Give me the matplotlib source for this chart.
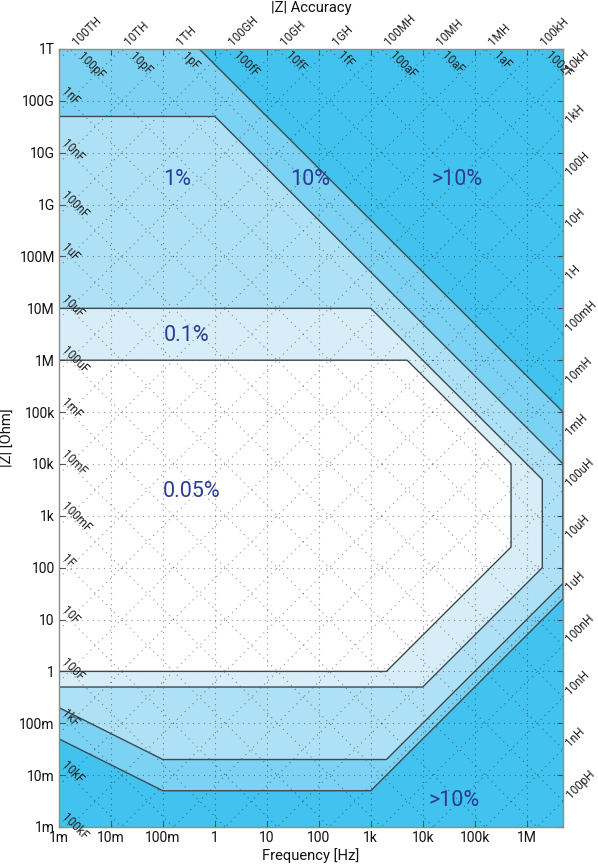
import numpy as np
import matplotlib
matplotlib.use("Agg")
import matplotlib.pyplot as plt

plt.rcParams['font.family'] = ['Roboto', 'DejaVu Sans']

# axis range
f_min, f_max = 1e-3, 5e6
z_min, z_max = 1e-3, 1e12

freq_ticks = [1e-3, 1e-2, 1e-1, 1, 10, 100, 1e3, 1e4, 1e5, 1e6]
freq_labels = ['1m', '10m', '100m', '1', '10', '100', '1k', '10k', '100k', '1M']
z_ticks = [1e-3, 1e-2, 1e-1, 1, 10, 100, 1e3, 1e4, 1e5, 1e6, 1e7, 1e8, 1e9, 1e10, 1e11, 1e12]
z_labels = ['1m', '10m', '100m', '1', '10', '100', '1k', '10k', '100k', '1M',
            '10M', '100M', '1G', '10G', '100G', '1T']

# capacitance lines (farad) and labels
cap_values = [1e-10, 1e-11, 1e-12, 1e-13, 1e-14, 1e-15, 1e-16, 1e-17, 1e-18, 1e-19,
              1e-9, 1e-8, 1e-7, 1e-6, 1e-5, 1e-4, 1e-3, 1e-2, 1e-1, 1, 10, 100, 1e3, 1e4, 1e5]
cap_labels = ['100pF', '10pF', '1pF', '100fF', '10fF', '1fF', '100aF', '10aF', '1aF', '100zF',
              '1nF', '10nF', '100nF', '1uF', '10uF', '100uF', '1mF', '10mF', '100mF',
              '1F', '10F', '100F', '1kF', '10kF', '100kF']

# inductance lines (henry) and labels
ind_values = [1e14, 1e13, 1e12, 1e11, 1e10, 1e9, 1e8, 1e7, 1e6, 1e5,
              1e4, 1e3, 100, 10, 1, 1e-1, 1e-2, 1e-3, 1e-4, 1e-5, 1e-6, 1e-7, 1e-8, 1e-9, 1e-10]
ind_labels = ['100TH', '10TH', '1TH', '100GH', '10GH', '1GH', '100MH', '10MH', '1MH', '100kH',
              '10kH', '1kH', '100H', '10H', '1H', '100mH', '10mH', '1mH', '100uH', '10uH',
              '1uH', '100nH', '10nH', '1nH', '100pH']

# accuracy regions: upper and lower boundary (freq, |Z|)
regions = ['10%', '1%', '0.1%', '0.05%']
colors = ['#7cd2f3', '#afe1f6', '#d7eef9', '#ffffff']
upper = [
    [(1e-3, 1e12), (0.5, 1e12), (5e6, 1e5)],
    [(1e-3, 5e10), (1, 5e10), (5e6, 1e4)],
    [(1e-3, 1e7), (1e3, 1e7), (2e6, 5e3)],
    [(1e-3, 1e6), (5e3, 1e6), (5e5, 1e4)],
]
lower = [
    [(1e-3, 0.05), (0.1, 5e-3), (1e3, 5e-3), (5e6, 25)],
    [(1e-3, 0.2), (0.1, 0.02), (2e3, 0.02), (5e6, 50)],
    [(1e-3, 0.5), (1e4, 0.5), (2e6, 100)],
    [(1e-3, 1), (2e3, 1), (5e5, 250)],
]
outer_color = '#42c3ef'

# region labels
label_text = ['1%', '10%', '>10%', '0.1%', '0.05%', '>10%']
label_f = [0.19, 67, 4.5e4, 0.29, 0.36, 4e4]
label_z = [3e9, 3e9, 3e9, 3e6, 3e3, 3.2e-3]

fig = plt.figure(figsize=(5.98, 8.64), dpi=100)
ax = fig.add_axes([59 / 598, 37 / 864, 504 / 598, 778 / 864])
ax.set_xscale('log')
ax.set_yscale('log')
ax.set_xlim(f_min, f_max)
ax.set_ylim(z_min, z_max)
ax.set_facecolor(outer_color)

edge = '#3d4a52'
for i in range(len(regions)):
    pts = upper[i] + lower[i][::-1]
    xs = [p[0] for p in pts]
    ys = [p[1] for p in pts]
    ax.fill(xs, ys, color=colors[i], lw=0, zorder=1)
    ax.plot(xs, ys, color=edge, lw=1.0, zorder=3)

# grid
fgrid = np.logspace(-3, np.log10(f_max), 200)
dot = dict(color=(0, 0, 0, 0.42), lw=0.8, dashes=(1, 4), zorder=2)
for t in freq_ticks[1:]:
    ax.plot([t, t], [z_min, z_max], **dot)
for t in z_ticks[1:-1]:
    ax.plot([f_min, f_max], [t, t], **dot)
for c in cap_values:
    ax.plot(fgrid, 1 / (2 * np.pi * fgrid * c), **dot)
for l in ind_values:
    ax.plot(fgrid, 2 * np.pi * fgrid * l, **dot)

# capacitance labels
for c, lab in zip(cap_values, cap_labels):
    z0 = 1 / (2 * np.pi * f_min * c)
    if z0 > z_max:
        f0 = 1 / (2 * np.pi * z_max * c)
        xy, off = (f0, z_max), (5.4, -5.4)
    else:
        xy, off = (f_min, z0), (1.2, -1.2)
    ax.annotate(lab, xy=xy, xytext=off, textcoords='offset points', rotation=-45,
                rotation_mode='anchor', ha='left', va='baseline', fontsize=8.5,
                color='#222222', annotation_clip=False, zorder=5)

# inductance labels
for l, lab in zip(ind_values, ind_labels):
    z0 = 2 * np.pi * f_max * l
    if z0 > z_max:
        f0 = z_max / (2 * np.pi * l)
        xy = (f0, z_max)
    else:
        xy = (f_max, z0)
    ax.annotate(lab, xy=xy, xytext=(3.6, 3.6), textcoords='offset points', rotation=45,
                rotation_mode='anchor', ha='left', va='center', fontsize=8.5,
                color='#222222', annotation_clip=False, zorder=5)

for t, fx, zy in zip(label_text, label_f, label_z):
    ax.text(fx, zy, t, fontsize=15.5, color='#2a3d96', ha='center', va='center', zorder=6)

ax.set_xticks(freq_ticks)
ax.set_xticklabels(freq_labels)
ax.set_yticks(z_ticks)
ax.set_yticklabels(z_labels)
ax.minorticks_off()
ax.tick_params(direction='in', length=4, width=0.8, color='#555555', labelsize=10,
               labelcolor='#111111', top=True, right=True, pad=3)
for s in ax.spines.values():
    s.set_color('#8c8c8c')
    s.set_linewidth(1.0)
    s.set_zorder(4)

fig.text(311 / 598, 1 - 8 / 864, '|Z| Accuracy', ha='center', va='center', fontsize=10.6, color='#111111')
fig.text(311 / 598, 1 - 856 / 864, 'Frequency [Hz]', ha='center', va='center', fontsize=10.6, color='#111111')
fig.text(8 / 598, 1 - 438 / 864, '|Z| [Ohm]', ha='center', va='center', rotation=90, fontsize=10.6, color='#111111')

fig.savefig('out.png', dpi=100)
